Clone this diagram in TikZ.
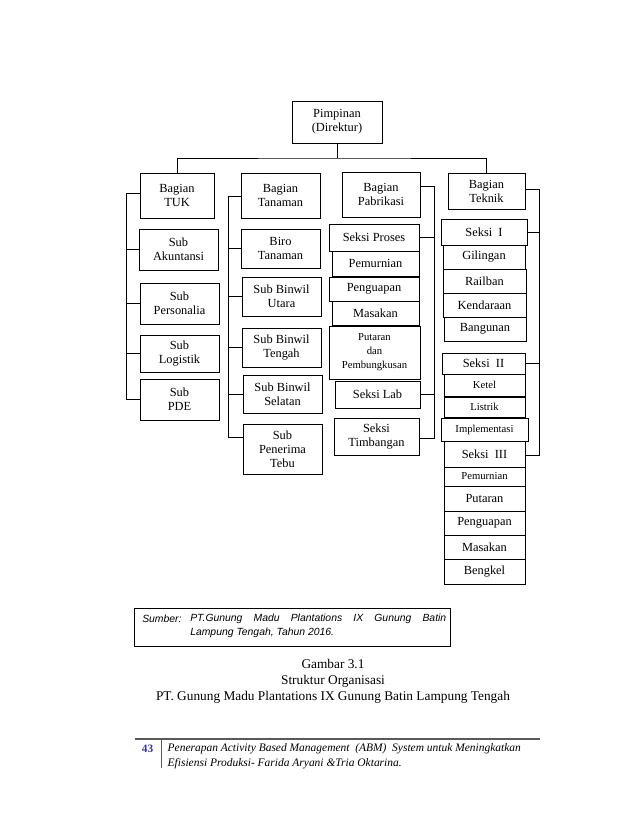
\documentclass[tikz,border=0pt]{standalone}
\usepackage{fontspec}
\setmainfont{Liberation Serif}
\newfontfamily\arialf{Liberation Sans}
\begin{document}
\begin{tikzpicture}[x=0.75pt,y=-0.75pt,
  box/.style={draw,line width=0.6pt,inner sep=0pt,align=center,font=\fontsize{9.3}{10.5}\selectfont},
  ln/.style={line width=0.6pt}]
\useasboundingbox (0,0) rectangle (638,826);
\newcommand\bx[6]{\node[box,minimum width={(#4-#2)*0.75pt},minimum height={(#5-#3)*0.75pt}] (#1) at ({(#2+#4)/2},{(#3+#5)/2}) {#6};}
\newcommand\sm{\fontsize{8}{9.5}\selectfont}
\bx{pim}{292}{101}{382}{143}{Pimpinan\\(Direktur)}
\bx{tuk}{140}{173}{214}{218}{Bagian\\TUK}
\bx{tan}{241}{173}{320}{218}{Bagian\\Tanaman}
\bx{pab}{342}{172}{420}{217}{Bagian\\Pabrikasi}
\bx{tek}{448}{173}{525}{209}{Bagian\\Teknik}
% TUK
\bx{akun}{139}{229}{218}{270}{Sub\\Akuntansi}
\bx{pers}{140}{283}{219}{324}{Sub\\Personalia}
\bx{logi}{140}{335}{219}{372}{Sub\\Logistik}
\bx{pde}{140}{379}{219}{420}{Sub\\PDE}
% Tanaman
\bx{biro}{241}{229}{320}{268}{Biro\\Tanaman}
\bx{utara}{242}{277}{321}{316}{Sub Binwil\\Utara}
\bx{tengah}{242}{328}{321}{367}{Sub Binwil\\Tengah}
\bx{selatan}{243}{375}{322}{413}{Sub Binwil\\Selatan}
\bx{tebu}{243}{424}{322}{474}{Sub\\Penerima\\Tebu}
% Pabrikasi
\bx{proses}{329}{224}{419}{251}{Seksi Proses}
\bx{pemur}{332}{251}{419}{276}{Pemurnian}
\bx{pengu}{329}{277}{419}{301}{Penguapan}
\bx{masak}{332}{301}{419}{325}{Masakan}
\bx{putar}{329}{326}{420}{379}{\sm Putaran\\\sm dan\\\sm Pembungkusan}
\bx{lab}{335}{381}{420}{408}{Seksi Lab}
\bx{timb}{334}{418}{419}{455}{Seksi\\Timbangan}
% Teknik
\bx{s1}{441}{219}{527}{245}{Seksi\ \ I}
\bx{gil}{443}{245}{525}{269}{Gilingan}
\bx{rail}{443}{269}{526}{293}{Railban}
\bx{kend}{443}{293}{526}{317}{Kendaraan}
\bx{bang}{444}{317}{526}{341}{Bangunan}
\bx{s2}{442}{353}{525}{374}{Seksi\ \ II}
\bx{ketel}{444}{374}{525}{396}{\sm Ketel}
\bx{listrik}{444}{397}{525}{417}{\sm Listrik}
\bx{impl}{441}{418}{528}{441}{\sm Implementasi}
\bx{s3}{444}{441}{525}{467}{Seksi\ \ III}
\bx{pem2}{444}{467}{525}{486}{\sm Pemurnian}
\bx{put2}{444}{486}{525}{511}{Putaran}
\bx{peng2}{444}{511}{525}{535}{Penguapan}
\bx{mas2}{444}{535}{525}{559}{Masakan}
\bx{beng}{444}{559}{525}{584}{Bengkel}
% top bus
\coordinate (bus) at (337,158);
\draw[ln] (pim.south) -- (bus);
\draw[ln] (tuk.north) |- (bus) -| (tek.north);
% TUK bus
\coordinate (tb) at (126,193);
\draw[ln] (tuk.west|-tb) -- (tb) |- (pde.west);
\foreach \n in {akun,pers,logi} \draw[ln] (\n.west) -- (\n.west-|tb);
% Tanaman bus
\coordinate (nb) at (228,196);
\coordinate (nbe) at (228,437);
\draw[ln] (tan.west|-nb) -- (nb) -- (nbe) -- (tebu.west|-nbe);
\foreach \n in {biro,utara,tengah,selatan} \draw[ln] (\n.west) -- (\n.west-|nb);
% Pabrikasi bus
\coordinate (pb) at (434,186);
\coordinate (pbe) at (434,438);
\draw[ln] (pab.east|-pb) -- (pb) -- (pbe) -- (timb.east|-pbe);
\foreach \n in {proses,lab} \draw[ln] (\n.east) -- (\n.east-|pb);
% Teknik bus
\coordinate (kb) at (539,189);
\coordinate (kbe) at (539,455);
\draw[ln] (tek.east|-kb) -- (kb) -- (kbe) -- (s3.east|-kbe);
\foreach \n in {s1,s2} \draw[ln] (\n.east) -- (\n.east-|kb);
% source box
\node[draw,line width=0.6pt,minimum width={316*0.75pt},minimum height={38*0.75pt}] (src) at (292,627) {};
\node[anchor=west,font=\arialf\itshape\fontsize{7.8}{10}\selectfont,inner sep=0pt] (s1t) at (142,619) {Sumber:};
\node[anchor=north west,font=\arialf\itshape\fontsize{7.8}{10.5}\selectfont,align=left,inner sep=0pt] (s2t) at (190,614) {\makebox[192pt][s]{PT.Gunung\hfill Madu\hfill Plantations\hfill IX\hfill Gunung\hfill Batin}\\Lampung Tengah, Tahun 2016.};
% caption
\node[font=\fontsize{10}{12}\selectfont,align=center] (cap) at (333,681) {Gambar 3.1\\Struktur Organisasi\\PT. Gunung Madu Plantations IX Gunung Batin Lampung Tengah};
% footer
\coordinate (fl) at (135,739);
\coordinate (fr) at (540,739);
\draw[line width=1pt,gray!70!black] (fl) -- (fr);
\coordinate (vt) at (161,739);
\coordinate (vb) at (161,768);
\draw[line width=0.6pt,gray!70!black] (vt) -- (vb);
\node[anchor=east,font=\bfseries\fontsize{8.5}{10}\selectfont,text=blue!55!gray!90!black] (pg) at (158,749) {43};
\node[anchor=west,font=\itshape\fontsize{8.6}{11}\selectfont,align=left] (ft) at (163,756) {Penerapan Activity Based Management\ \ (ABM)\ \ System untuk Meningkatkan\\ Efisiensi Produksi- Farida Aryani \&Tria Oktarina.};
\end{tikzpicture}
\end{document}
